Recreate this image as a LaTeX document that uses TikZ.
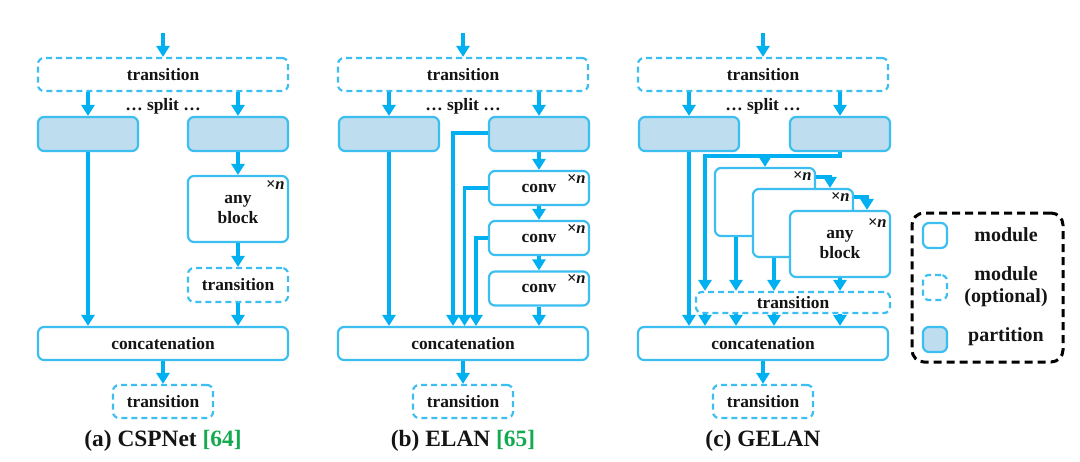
\documentclass[tikz,border=0pt]{standalone}
\usepackage{fontspec}
\setmainfont{Liberation Serif}
\usetikzlibrary{arrows.meta,calc}
\definecolor{ablue}{RGB}{0,176,240}
\definecolor{bbord}{RGB}{60,190,240}
\definecolor{pfill}{RGB}{190,222,240}
\definecolor{tcol}{RGB}{20,20,20}
\definecolor{cgreen}{RGB}{20,170,80}
\tikzset{
  mod/.style={draw=bbord, line width=1.1pt, rounded corners=3pt, fill=white, inner sep=0pt,
    font=\fontsize{8.7}{10}\selectfont\bfseries, text=tcol, align=center},
  opt/.style={mod, dash pattern=on 3pt off 2pt},
  part/.style={mod, fill=pfill},
  ln/.style={draw=ablue, line width=1.75pt},
  arr/.style={ln, -{Triangle[length=5.5pt,width=6.5pt]}},
  txt/.style={font=\fontsize{8.7}{10}\selectfont\bfseries, text=tcol, inner sep=0pt},
  xn/.style={font=\fontsize{8.3}{9}\selectfont\bfseries, text=tcol, inner sep=0pt, anchor=north east},
  captxt/.style={font=\fontsize{11.7}{13}\selectfont\bfseries, text=tcol, inner sep=0pt},
  lgt/.style={font=\fontsize{10}{11}\selectfont\bfseries, text=tcol, inner sep=0pt, align=center},
  wide/.style={minimum width=125pt, minimum height=16.5pt},
  narrow/.style={minimum width=50pt, minimum height=17pt},
}
\begin{document}
\begin{tikzpicture}[x=0.5pt,y=-0.5pt]
\useasboundingbox (0,0) rectangle (1080,461);
\fill[white] (0,0) rectangle (1080,461);

% ================= (a) CSPNet =================
\coordinate (a_in) at (163,33);
\node[opt,wide] (a_tr) at (163,74.5) {transition};
\node[txt] (a_split) at (163,106) {… split …};
\node[part,narrow] (a_p1) at (88,134) {};
\node[part,narrow] (a_p2) at (238,134) {};
\node[mod,minimum width=50pt,minimum height=33pt] (a_blk) at (238,209) {any\\block};
\node[xn] (a_xn) at ([xshift=-2pt,yshift=-2.5pt]a_blk.north east) {×\textit{n}};
\node[opt,narrow] (a_tr2) at (238,285) {transition};
\node[mod,wide] (a_cat) at (163,343.5) {concatenation};
\node[opt,narrow,minimum height=16.5pt] (a_out) at (163,401.5) {transition};
\node[captxt] (a_cap) at (163,441) {(a) CSPNet \textcolor{cgreen}{[64]}};

\draw[arr] (a_in) -- (a_tr.north);
\draw[arr] (a_tr.south -| a_p1) -- (a_p1.north);
\draw[arr] (a_tr.south -| a_p2) -- (a_p2.north);
\draw[arr] (a_p1.south) -- (a_cat.north -| a_p1);
\draw[arr] (a_p2.south) -- (a_blk.north);
\draw[arr] (a_blk.south) -- (a_tr2.north);
\draw[arr] (a_tr2.south) -- (a_cat.north -| a_tr2);
\draw[arr] (a_cat.south) -- (a_out.north);

% ================= (b) ELAN =================
\coordinate (b_in) at (463,33);
\node[opt,wide] (b_tr) at (463,74.5) {transition};
\node[txt] (b_split) at (463,106) {… split …};
\node[part,narrow] (b_p1) at (389,134) {};
\node[part,narrow] (b_p2) at (539,134) {};
\node[mod,narrow] (b_c1) at (539,188) {conv};
\node[mod,narrow] (b_c2) at (539,238) {conv};
\node[mod,narrow] (b_c3) at (539,288.5) {conv};
\node[xn] (b_x1) at ([xshift=-2pt,yshift=-2pt]b_c1.north east) {×\textit{n}};
\node[xn] (b_x2) at ([xshift=-2pt,yshift=-2pt]b_c2.north east) {×\textit{n}};
\node[xn] (b_x3) at ([xshift=-2pt,yshift=-2pt]b_c3.north east) {×\textit{n}};
\node[mod,wide] (b_cat) at (463,343.5) {concatenation};
\node[opt,narrow,minimum height=16.5pt] (b_out) at (463,401.5) {transition};
\node[captxt] (b_cap) at (463,441) {(b) ELAN \textcolor{cgreen}{[65]}};

\coordinate (b_k1) at (453,133);
\coordinate (b_k2) at (464.5,188);
\coordinate (b_k3) at (476,238);

\draw[arr] (b_in) -- (b_tr.north);
\draw[arr] (b_tr.south -| b_p1) -- (b_p1.north);
\draw[arr] (b_tr.south -| b_p2) -- (b_p2.north);
\draw[arr] (b_p1.south) -- (b_cat.north -| b_p1);
\draw[arr] (b_p2.south) -- (b_c1.north);
\draw[arr] (b_c1.south) -- (b_c2.north);
\draw[arr] (b_c2.south) -- (b_c3.north);
\draw[arr] (b_c3.south) -- (b_cat.north -| b_c3);
\draw[arr] (b_k1 -| b_p2.west) -- (b_k1) -- (b_k1 |- b_cat.north);
\draw[arr] (b_c1.west) -- (b_k2) -- (b_k2 |- b_cat.north);
\draw[arr] (b_c2.west) -- (b_k3) -- (b_k3 |- b_cat.north);
\draw[arr] (b_cat.south) -- (b_out.north);

% ================= (c) GELAN =================
\coordinate (c_in) at (763,33);
\node[opt,wide] (c_tr) at (763,74.5) {transition};
\node[txt] (c_split) at (763,106) {… split …};
\node[part,narrow] (c_p1) at (689,134) {};
\node[part,narrow] (c_p2) at (840,134) {};
\node[mod,minimum width=50pt,minimum height=34pt] (c_b1) at (765,202) {};
\node[xn] (c_x1) at ([xshift=-2pt,yshift=-2pt]c_b1.north east) {×\textit{n}};
\node[mod,minimum width=50pt,minimum height=34pt] (c_b2) at (803,223) {};
\node[xn] (c_x2) at ([xshift=-2pt,yshift=-2pt]c_b2.north east) {×\textit{n}};
\node[mod,minimum width=50pt,minimum height=33pt] (c_b3) at (840,244) {any\\block};
\node[xn] (c_x3) at ([xshift=-2pt,yshift=-4pt]c_b3.north east) {×\textit{n}};
\node[opt,minimum width=97pt,minimum height=10.5pt] (c_tr2) at (793,302.5) {transition};
\node[mod,wide] (c_cat) at (763,343.5) {concatenation};
\node[opt,narrow,minimum height=16.5pt] (c_out) at (763,401.5) {transition};
\node[captxt] (c_cap) at (763,441) {(c) GELAN};

\coordinate (c_j) at (840,156);
\coordinate (c_k) at (705,156);
\coordinate (c_s1) at (830,177);
\coordinate (c_s2) at (867,197);
\coordinate (c_d1) at (736,300);
\coordinate (c_d2) at (774,300);
\coordinate (c_d3) at (840,300);

\draw[arr] (c_in) -- (c_tr.north);
\draw[arr] (c_tr.south -| c_p1) -- (c_p1.north);
\draw[arr] (c_tr.south -| c_p2) -- (c_p2.north);
\draw[arr] (c_p1.south) -- (c_cat.north -| c_p1);
\draw[arr] (c_p2.south) -- (c_j) -- (c_k) -- (c_k |- c_tr2.north);
\draw[arr] (c_j -| c_b1) -- (c_b1.north);
\draw[arr] (c_s1 -| c_b1.east) -- (c_s1) -- (c_s1 |- c_b2.north);
\draw[arr] (c_s2 -| c_b2.east) -- (c_s2) -- (c_s2 |- c_b3.north);
\draw[arr] (c_b1.south -| c_d1) -- (c_d1 |- c_tr2.north);
\draw[arr] (c_b2.south -| c_d2) -- (c_d2 |- c_tr2.north);
\draw[arr] (c_b3.south -| c_d3) -- (c_d3 |- c_tr2.north);
\draw[arr] (c_tr2.south -| c_k) -- (c_cat.north -| c_k);
\draw[arr] (c_tr2.south -| c_d1) -- (c_cat.north -| c_d1);
\draw[arr] (c_tr2.south -| c_d2) -- (c_cat.north -| c_d2);
\draw[arr] (c_tr2.south -| c_d3) -- (c_cat.north -| c_d3);
\draw[arr] (c_cat.south) -- (c_out.north);

% ================= legend =================
\node[draw=black, line width=1.5pt, dash pattern=on 4pt off 2.5pt, rounded corners=6pt,
      minimum width=75.5pt, minimum height=74.5pt, inner sep=0pt] (lg) at (987.5,287.5) {};
\node[mod,minimum width=12pt,minimum height=12.5pt] (lg_m) at (935,235.5) {};
\node[opt,minimum width=12pt,minimum height=12.5pt] (lg_o) at (935,287.5) {};
\node[part,minimum width=12pt,minimum height=12.5pt] (lg_p) at (935,339.5) {};
\node[lgt] (lg_mt) at (1006,235) {module};
\node[lgt] (lg_ot) at (1006,287) {module\\(optional)};
\node[lgt] (lg_pt) at (1006,337) {partition};
\end{tikzpicture}
\end{document}
